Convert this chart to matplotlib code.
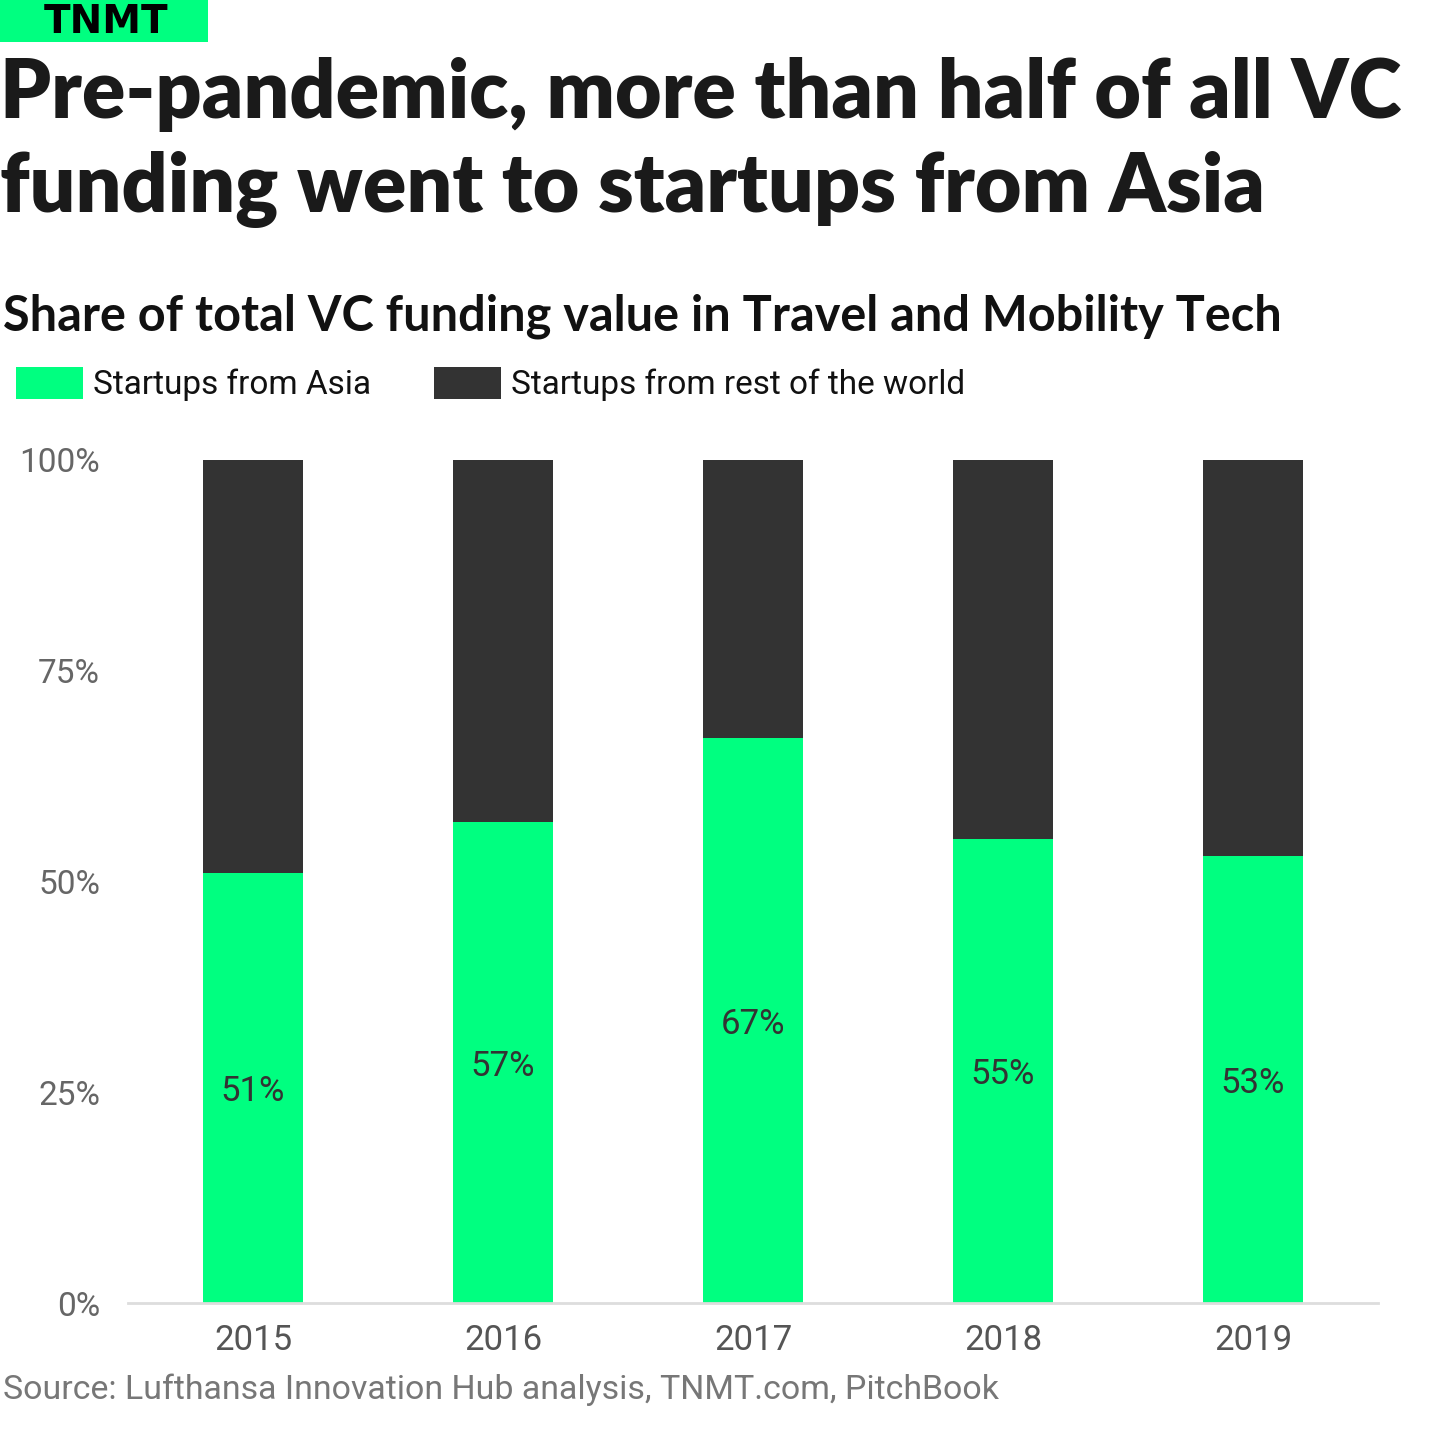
import numpy as np
import matplotlib
matplotlib.use("Agg")
import matplotlib.pyplot as plt
from matplotlib.patches import Rectangle

# data
years = ["2015", "2016", "2017", "2018", "2019"]
asia = [51, 57, 67, 55, 53]
rest = [100 - v for v in asia]
ytick_vals = [0, 25, 50, 75, 100]
ytick_labels = ["0%", "25%", "50%", "75%", "100%"]

GREEN = "#00ff80"
DARK = "#333333"

fig = plt.figure(figsize=(14.4, 14.4), dpi=100)
fig.patch.set_facecolor("white")

# logo block top-left
fig.add_artist(Rectangle((0, 1 - 42 / 1440), 208 / 1440, 42 / 1440,
                         transform=fig.transFigure, color=GREEN, lw=0))
fig.text(106 / 1440, 1 - 22 / 1440, "TNMT", ha="center", va="center",
         fontsize=28, fontweight="bold", family="DejaVu Sans", color="black")

# headline
fig.text(0.0, 1 - 95 / 1440, "Pre-pandemic, more than half of all VC",
         ha="left", va="center", fontsize=58, fontweight="heavy",
         family="Lato", color="#1a1a1a")
fig.text(0.0, 1 - 190 / 1440, "funding went to startups from Asia",
         ha="left", va="center", fontsize=58, fontweight="heavy",
         family="Lato", color="#1a1a1a")
fig.text(3 / 1440, 1 - 316 / 1440,
         "Share of total VC funding value in Travel and Mobility Tech",
         ha="left", va="center", fontsize=35, fontweight="bold",
         family="Lato", color="#111111")

ax = fig.add_axes([128 / 1440, 1 - 1303 / 1440, 1250 / 1440, 843 / 1440])
x = np.arange(len(years))
b1 = ax.bar(x, asia, width=0.4, color=GREEN, label="Startups from Asia")
b2 = ax.bar(x, rest, width=0.4, bottom=asia, color=DARK,
            label="Startups from rest of the world")

# value labels in the middle of the green segment
for xi, v in zip(x, asia):
    ax.text(xi, v / 2, f"{v}%", ha="center", va="center_baseline",
            fontsize=25, family="Roboto", color=DARK)

ax.set_xlim(-0.5, len(years) - 0.5)
ax.set_ylim(0, 100)
ax.set_xticks(x)
ax.set_xticklabels(years, fontsize=25, family="Roboto", color="#555555")
ax.set_yticks(ytick_vals)
ax.set_yticklabels(ytick_labels, fontsize=24, family="Roboto",
                   color="#666666")
ax.tick_params(axis="both", length=0)
ax.tick_params(axis="x", pad=15)
ax.tick_params(axis="y", pad=20)
for s in ["top", "right", "left"]:
    ax.spines[s].set_visible(False)
ax.spines["bottom"].set_color("#dddddd")
ax.spines["bottom"].set_linewidth(2)

fig.legend(handles=[b1, b2], loc="center left",
           bbox_to_anchor=(16 / 1440, 1 - 384 / 1440), ncol=2, frameon=False,
           prop={"family": "Roboto", "size": 24},
           handlelength=2.0, handleheight=1.1, handletextpad=0.3,
           columnspacing=1.9, borderpad=0, borderaxespad=0,
           labelcolor="#111111")

fig.text(3 / 1440, 1 - 1390 / 1440,
         "Source: Lufthansa Innovation Hub analysis, TNMT.com, PitchBook",
         ha="left", va="center", fontsize=24.4, family="Roboto",
         color="#777777")

fig.savefig("out.png", dpi=100, facecolor="white")
